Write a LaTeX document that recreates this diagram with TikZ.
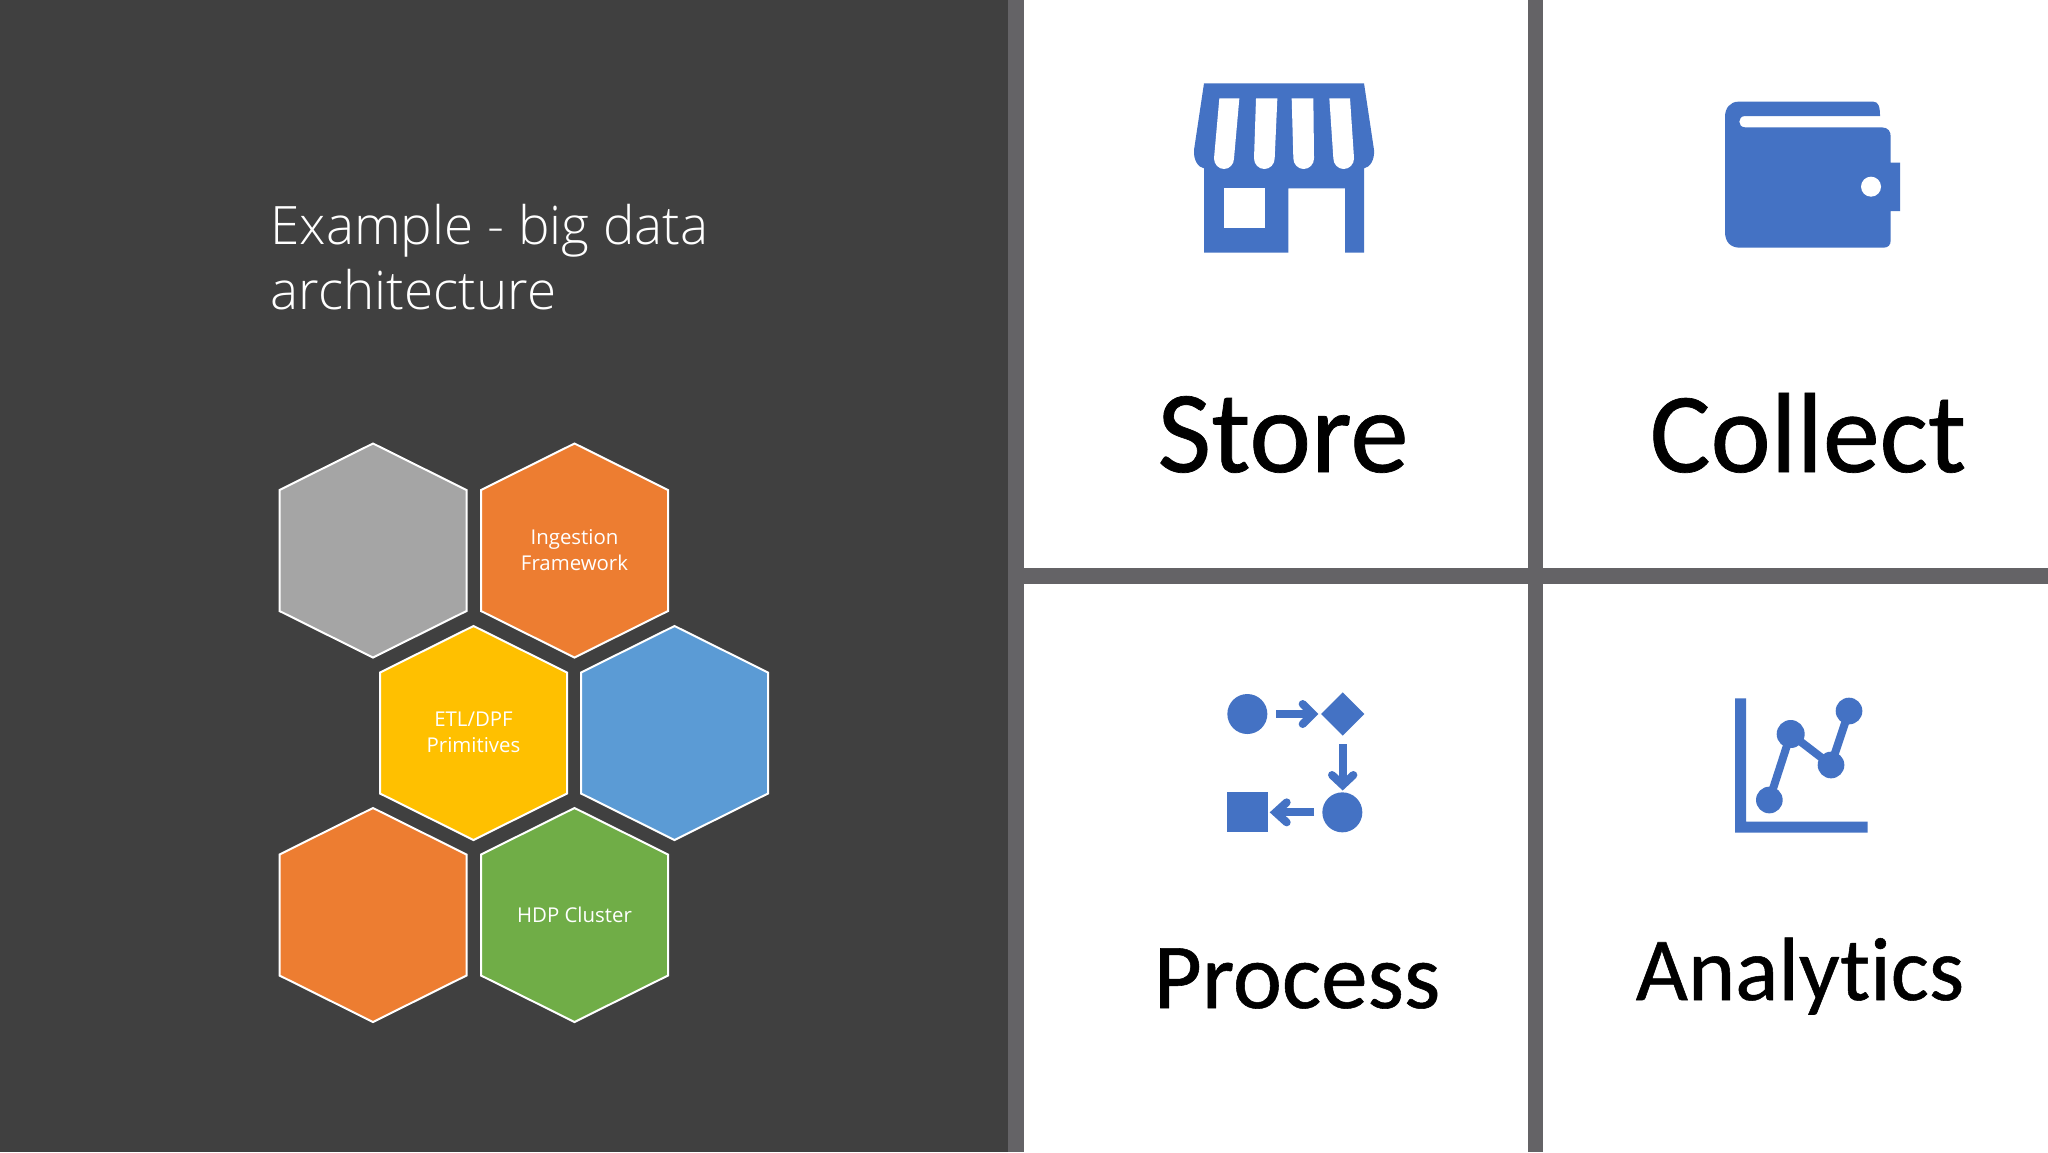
\documentclass[tikz,border=0pt]{standalone}
\usepackage{fontspec}
\setmainfont{Carlito}
\newfontfamily\titlefont{Open Sans Light}
\newfontfamily\hexfont{Open Sans}
\newfontfamily\bigfont[FakeBold=0.6,Ligatures=NoCommon]{Carlito}
\definecolor{slidebg}{HTML}{404040}
\definecolor{barcol}{HTML}{646366}
\definecolor{iconblue}{HTML}{4472C4}
\definecolor{hexgray}{HTML}{A5A5A5}
\definecolor{hexorange}{HTML}{ED7D31}
\definecolor{hexyellow}{HTML}{FFC000}
\definecolor{hexblue}{HTML}{5B9BD5}
\definecolor{hexgreen}{HTML}{70AD47}
\tikzset{
  x=0.5pt,y=-0.5pt,
  hexcell/.style={draw=white,line width=1pt,line join=miter},
  hexlabel/.style={text=white,align=center,inner sep=0pt,font=\hexfont\fontsize{10.2}{12.8}\selectfont},
  titletext/.style={text=white,anchor=base west,inner sep=0pt,font=\titlefont\fontsize{26.5}{32}\selectfont},
  biglabel/.style={text=black,anchor=base,inner sep=0pt},
  icon3x/.style={x=0.1666667pt,y=-0.1666667pt},
  iconfill/.style={fill=iconblue,draw=none},
  iconhole/.style={fill=white,draw=none},
}
\newcommand{\hexcellat}[3]{%
  \draw[hexcell,fill=#3] (#1,#2-107) -- (#1+93.5,#2-60.5) -- (#1+93.5,#2+60.5) -- (#1,#2+107) -- (#1-93.5,#2+60.5) -- (#1-93.5,#2-60.5) -- cycle;}
\begin{document}
\begin{tikzpicture}
\useasboundingbox (0,0) rectangle (2048,1152);
\fill[barcol] (0,0) rectangle (2048,1152);
\fill[slidebg] (0,0) rectangle (1008,1152);
\fill[white] (1023.5,0) rectangle (1528,568);
\fill[white] (1543,0) rectangle (2048,568);
\fill[white] (1023.5,584) rectangle (1528,1152);
\fill[white] (1543,584) rectangle (2048,1152);

% title
\node[titletext] (titleA) at (270,244) {Example - big data};
\node[titletext] (titleB) at (270,309) {architecture};

% hexagons
\hexcellat{373}{550.5}{hexgray}
\hexcellat{574.5}{550.5}{hexorange}
\hexcellat{473.5}{733}{hexyellow}
\hexcellat{674.5}{733}{hexblue}
\hexcellat{373}{915}{hexorange}
\hexcellat{574.5}{915}{hexgreen}
\node[hexlabel] (ingest) at (574.5,550) {Ingestion\\Framework};
\node[hexlabel] (etl) at (473.5,732.5) {ETL/DPF\\Primitives};
\node[hexlabel] (hdp) at (574.5,914.5) {HDP Cluster};

% big labels
\node[biglabel,font=\bigfont\fontsize{58.5}{60}\selectfont] (store) at (1283,472) {Store};
\node[biglabel,font=\bigfont\fontsize{57}{60}\selectfont] (collect) at (1808,472) {Collect};
\node[biglabel,font=\bigfont\fontsize{46.5}{50}\selectfont] (process) at (1297,1008) {Process};
\node[biglabel,font=\bigfont\fontsize{45}{50}\selectfont] (analytics) at (1800,1000) {Analytics};

% store icon
\begin{scope}[shift={(1170,70)},icon3x]
  \fill[iconfill] (102,40) -- (582,40) -- (612,240) .. controls (614,270) and (600,292) .. (582,295) -- (582,548) -- (525,548) -- (525,355) -- (355,355) -- (355,548) -- (102,548) -- (102,295) .. controls (84,292) and (70,270) .. (72,240) -- cycle;
  \fill[iconhole] (148,85) -- (208,85) -- (192,265) arc[start angle=0,end angle=180,x radius=30,y radius=32] -- cycle;
  \fill[iconhole] (258,85) -- (322,85) -- (314,265) arc[start angle=0,end angle=180,x radius=31,y radius=32] -- cycle;
  \fill[iconhole] (365,85) -- (430,85) -- (432,265) arc[start angle=0,end angle=180,x radius=31,y radius=32] -- cycle;
  \fill[iconhole] (478,85) -- (540,85) -- (552,265) arc[start angle=0,end angle=180,x radius=31,y radius=32] -- cycle;
  \fill[iconhole] (163,355) rectangle (285,475);
\end{scope}

% wallet icon
\begin{scope}[shift={(1700,80)},icon3x]
  \fill[iconfill] (75,110) .. controls (75,85) and (90,65) .. (115,65) -- (520,65) .. controls (535,65) and (540,80) .. (540,108) -- (135,108) .. controls (112,108) and (112,142) .. (135,142) -- (545,142) .. controls (565,142) and (572,155) .. (572,170) -- (572,248) -- (600,248) -- (600,393) -- (572,393) -- (572,480) .. controls (572,495) and (565,503) .. (550,503) -- (120,503) .. controls (90,503) and (75,485) .. (75,455) -- cycle;
  \fill[iconhole] (513,320) circle[radius=30];
\end{scope}

% process icon
\begin{scope}[shift={(1210,680)},icon3x]
  \fill[iconfill] (112,102) circle[radius=60];
  \fill[iconfill] (398,37) -- (463,102) -- (398,167) -- (333,102) -- cycle;
  \fill[iconfill] (397,397) circle[radius=60];
  \fill[iconfill] (52,337) rectangle (173,457);
  \draw[iconblue,line width=4pt] (198,102) -- (305,102);
  \draw[iconblue,line width=4pt,line cap=round,line join=miter] (278,72) -- (308,102) -- (278,132);
  \draw[iconblue,line width=4pt] (398,192) -- (398,305);
  \draw[iconblue,line width=4pt,line cap=round,line join=miter] (366,285) -- (398,315) -- (430,285);
  \draw[iconblue,line width=4pt] (312,397) -- (205,397);
  \draw[iconblue,line width=4pt,line cap=round,line join=miter] (230,367) -- (197,397) -- (230,427);
\end{scope}

% analytics icon
\begin{scope}[shift={(1720,680)},icon3x]
  \fill[iconfill] (45,55) -- (78,55) -- (78,425) -- (443,425) -- (443,458) -- (45,458) -- cycle;
  \draw[iconblue,line width=4pt,line join=miter] (148,360) -- (212,162) -- (333,255) -- (387,93);
  \fill[iconfill] (148,360) circle[radius=40];
  \fill[iconfill] (212,162) circle[radius=42];
  \fill[iconfill] (333,255) circle[radius=40];
  \fill[iconfill] (387,93) circle[radius=40];
\end{scope}
\end{tikzpicture}
\end{document}
